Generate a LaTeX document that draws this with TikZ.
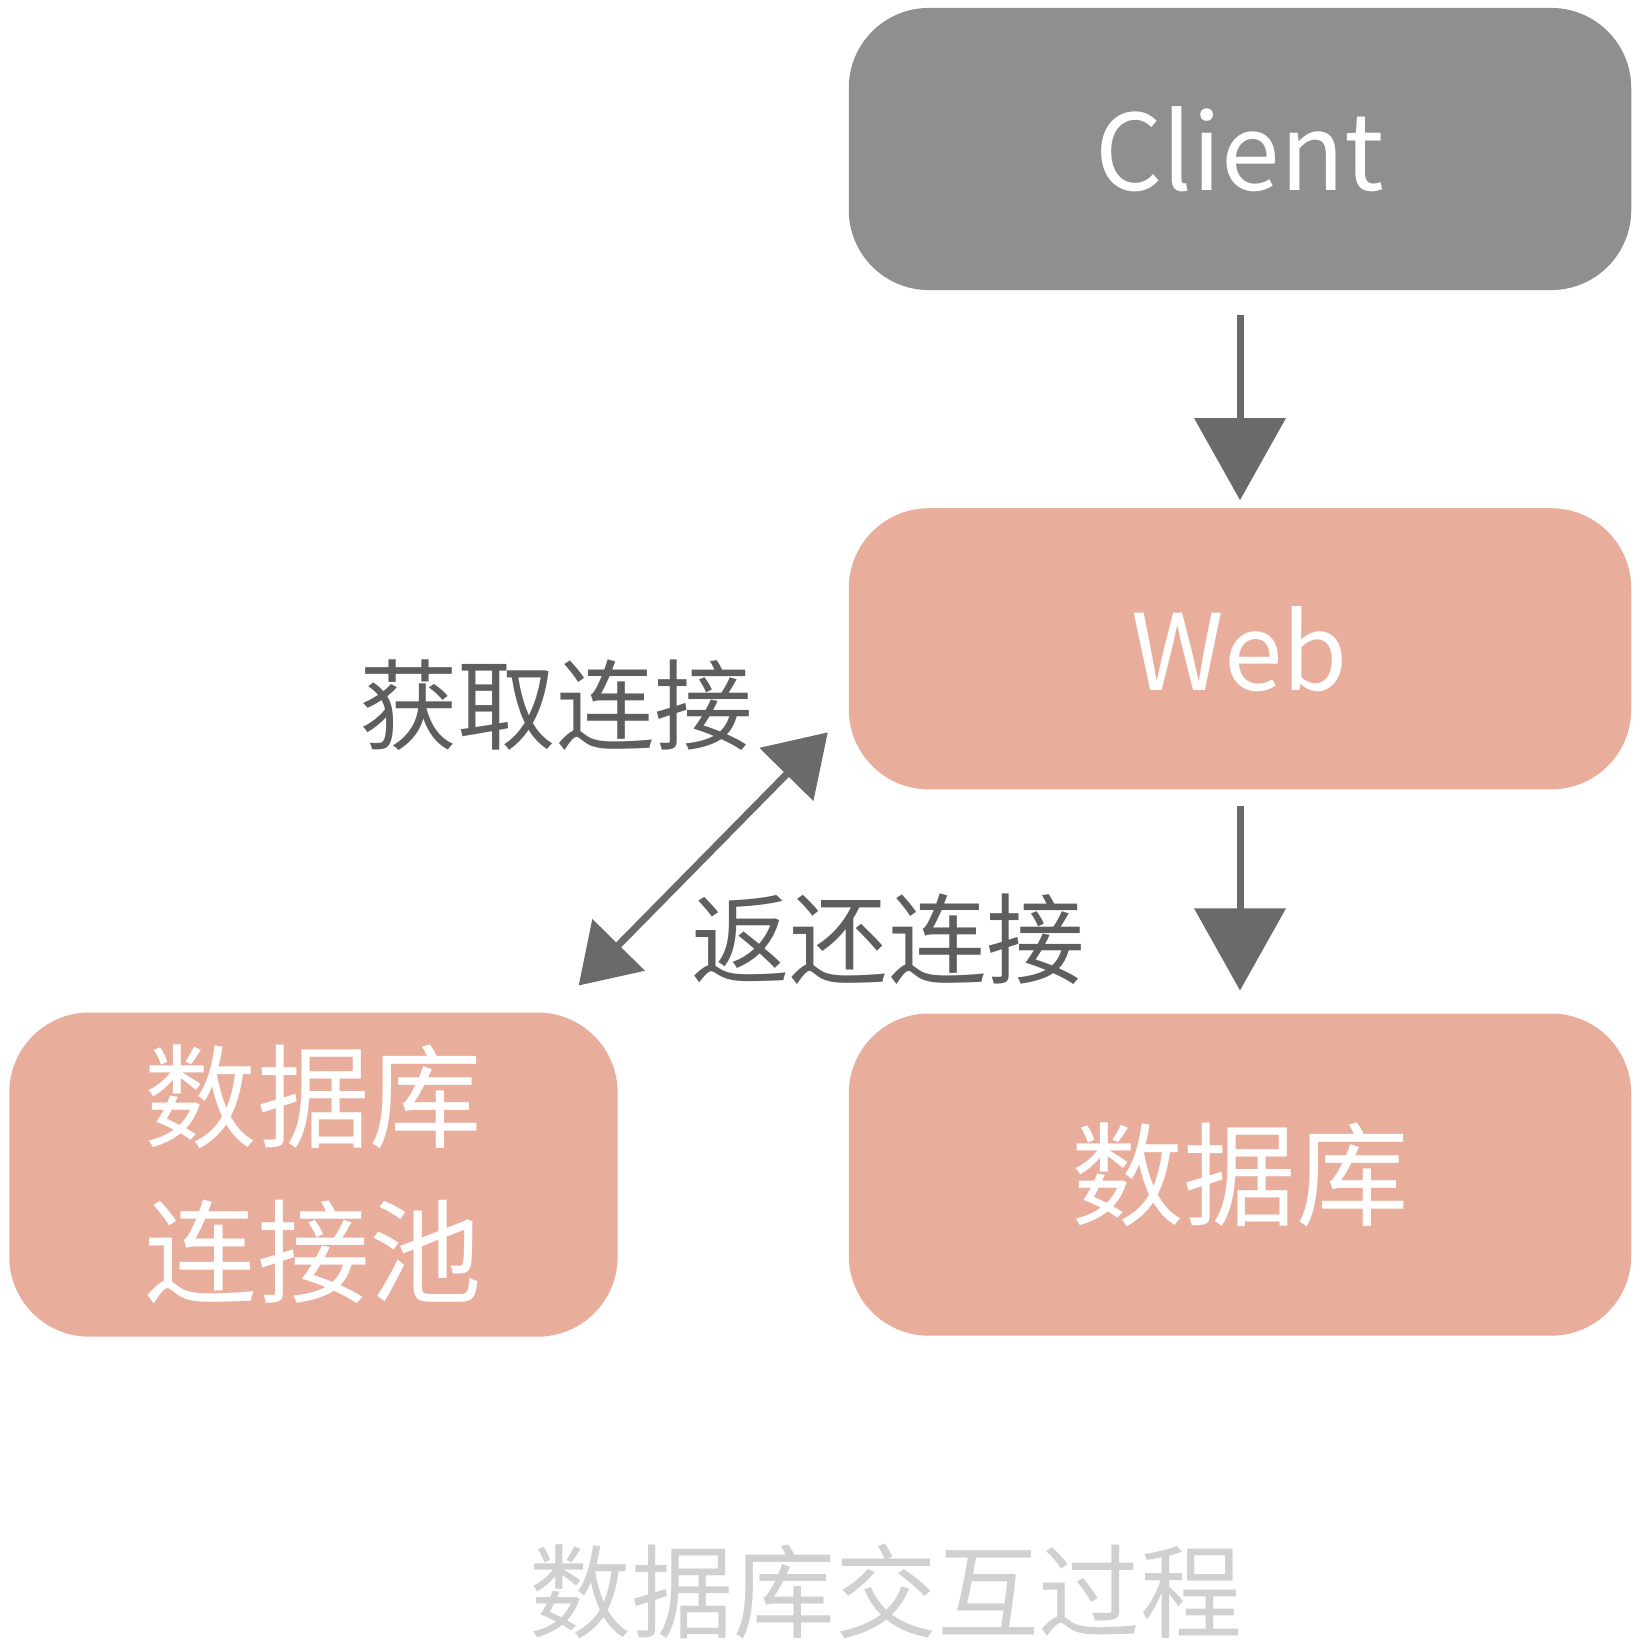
\documentclass[tikz,border=0pt]{standalone}
\usepackage{fontspec}
\setmainfont{Noto Sans CJK SC}
\usetikzlibrary{positioning,arrows.meta}
\definecolor{gris}{HTML}{8F8F8F}
\definecolor{saumon}{HTML}{E9AD9C}
\definecolor{flechegris}{HTML}{6A6A6A}
\definecolor{textegris}{HTML}{5E5E5E}
\definecolor{legende}{HTML}{D0D0D0}
\begin{document}
\begin{tikzpicture}[
    x=0.01cm, y=-0.01cm, % une unité = un pixel
    every node/.style={inner sep=0pt, outer sep=0pt},
    % Boîtes arrondies
    boite/.style={fill=#1, rounded corners=0.8cm, minimum width=7.82cm,
        text=white, align=center, font=\fontsize{32}{44}\selectfont},
    boite/.default=saumon,
    % Flèches épaisses
    fleche/.style={draw=flechegris, line width=2pt,
        -{Triangle[length=0.82cm, width=0.9cm]}},
    double fleche/.style={draw=flechegris, line width=2pt,
        {Triangle[length=0.57cm, width=0.72cm]}-{Triangle[length=0.59cm, width=0.74cm]}},
    etiquette/.style={text=textegris, font=\fontsize{28}{34}\selectfont}
]
\useasboundingbox (0,0) rectangle (1642,1652);
% Boîtes
\node[boite=gris, minimum height=2.82cm, font=\fontsize{30}{36}\selectfont] (client) at (1240,149) {Client};
\node[boite, minimum height=2.81cm, below=2.18cm of client, font=\fontsize{30}{36}\selectfont] (web) {Web};
\node[boite, minimum height=3.22cm, below=2.24cm of web] (db) {\raisebox{-0.08cm}{数据库}};
\node[boite, minimum width=6.08cm, minimum height=3.24cm, left=2.31cm of db] (pool) {数据库\\连接池};
% Flèches
\draw[fleche, shorten <=0.25cm, shorten >=0.08cm] (client) -- (web);
\draw[fleche, shorten <=0.17cm, shorten >=0.23cm] (web) -- (db);
\draw[double fleche] ([shift={(-39,-27)}]pool.north east) -- ([shift={(-21,-57)}]web.south west);
% Etiquettes
\node[etiquette] (prendre) at (556,705) {获取连接};
\node[etiquette] (rendre) at (888,939) {返还连接};
% Légende
\node[text=legende, font=\fontsize{29}{35}\selectfont] (titre) at (886,1592) {数据库交互过程};
\end{tikzpicture}
\end{document}
